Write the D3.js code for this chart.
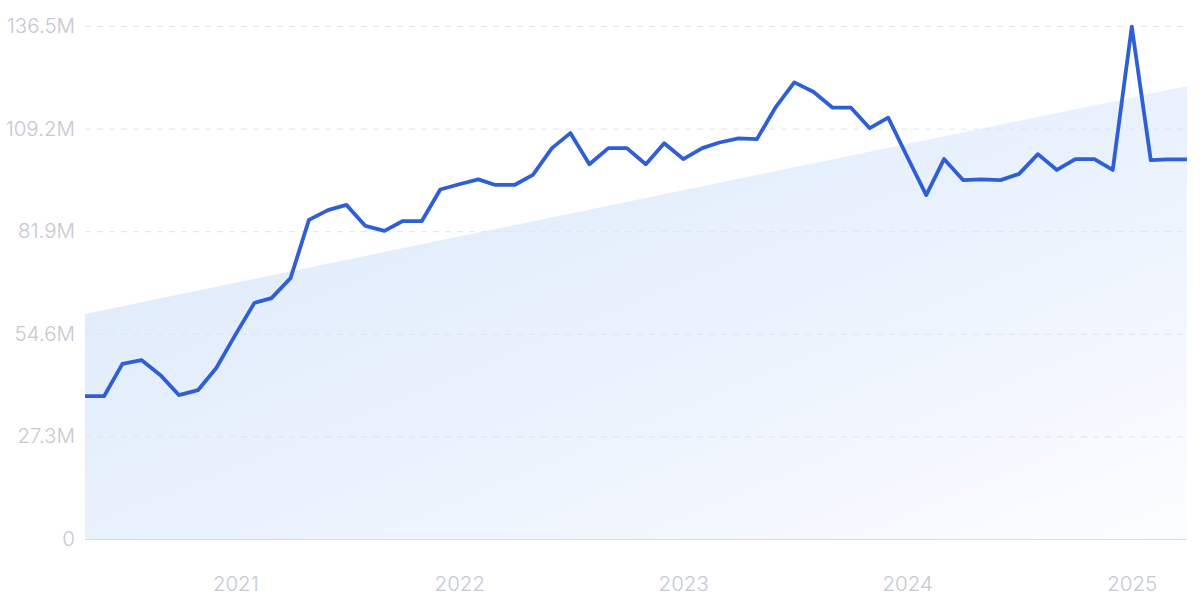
<!DOCTYPE html>
<html>
  <head>
    <meta charset="utf-8">
    <title>Trend</title>
    <script src="https://cdn.jsdelivr.net/npm/d3@7"></script>
    <style type="text/css">

html, body {
  margin: 0;
  background: #fff;
}

svg {
  display: block;
}

.tick text {
  font-family: "Inter", "Open Sans", sans-serif;
  fill: #c6c9d0;
  font-size: 20.5px;
  font-weight: 300;
}

    </style>
  </head>
  <body>
    <script type="text/javascript">

// monthly values in millions, May 2020 .. Apr 2025
var startMonth = new Date(2020, 4, 1);
var values = [
  38.0, 38.0, 46.6, 47.6, 43.6, 38.3, 39.6, 45.5, 54.3, 62.8,
  64.1, 69.4, 84.9, 87.5, 88.9, 83.3, 82.0, 84.6, 84.6, 93.0,
  94.4, 95.7, 94.2, 94.2, 96.9, 104.0, 108.0, 99.7, 104.0, 104.0,
  99.7, 105.3, 101.1, 104.0, 105.5, 106.6, 106.4, 115.0, 121.5, 119.0,
  114.8, 114.8, 109.3, 112.1, 101.7, 91.5, 101.1, 95.5, 95.7, 95.5,
  97.1, 102.4, 98.2, 101.1, 101.1, 98.2, 136.3, 100.8, 101.0, 101.0
];
var trend = [59.9, 120.5];           // trend line at first and last month
var yTicks = [0, 27.3, 54.6, 81.9, 109.2, 136.5];
var yLabels = ["0", "27.3M", "54.6M", "81.9M", "109.2M", "136.5M"];
var xYears = [2021, 2022, 2023, 2024, 2025];

var width = 1200, height = 605;
var margin = {top: 26, right: 13, bottom: 66, left: 85};

var data = values.map(function(v, i) {
  return {date: d3.timeMonth.offset(startMonth, i), value: v};
});

var svg = d3.select("body").append("svg")
    .attr("width", width)
    .attr("height", height);

var x = d3.scaleTime()
    .domain(d3.extent(data, function(d) { return d.date; }))
    .range([margin.left, width - margin.right]);

var y = d3.scaleLinear()
    .domain([0, 136.5])
    .range([height - margin.bottom, margin.top]);

var defs = svg.append("defs");
var grad = defs.append("linearGradient")
    .attr("id", "trendFill")
    .attr("x1", "0%").attr("y1", "0%")
    .attr("x2", "100%").attr("y2", "100%");
grad.append("stop").attr("offset", "0%").attr("stop-color", "#dbe8fa");
grad.append("stop").attr("offset", "55%").attr("stop-color", "#eaf2fd");
grad.append("stop").attr("offset", "100%").attr("stop-color", "#fcfdff");

// trend area
var first = data[0].date, last = data[data.length - 1].date;
var trendData = [{date: first, value: trend[0]}, {date: last, value: trend[1]}];
svg.append("path")
    .datum(trendData)
    .attr("fill", "url(#trendFill)")
    .attr("d", d3.area()
      .x(function(d) { return x(d.date); })
      .y0(y(0))
      .y1(function(d) { return y(d.value); }));

// y axis with dashed grid
var yAxis = svg.append("g")
    .attr("transform", "translate(" + margin.left + ",0)")
    .call(d3.axisLeft(y)
      .tickValues(yTicks)
      .tickSize(-(width - margin.left - margin.right))
      .tickPadding(10)
      .tickFormat(function(d, i) { return yLabels[i]; }));
yAxis.select(".domain").remove();
yAxis.selectAll(".tick line")
    .attr("stroke", "#dde4ef")
    .attr("stroke-dasharray", "6,6");
yAxis.selectAll(".tick")
    .filter(function(d) { return d === 0; })
    .select("line")
    .attr("stroke", "#cddff5")
    .attr("stroke-dasharray", null);

// x axis
var xAxis = svg.append("g")
    .attr("transform", "translate(0," + (height - margin.bottom) + ")")
    .call(d3.axisBottom(x)
      .tickValues(xYears.map(function(yr) { return new Date(yr, 0, 1); }))
      .tickSize(0)
      .tickPadding(37)
      .tickFormat(d3.timeFormat("%Y")));
xAxis.select(".domain").remove();

// line
svg.append("path")
    .datum(data)
    .attr("fill", "none")
    .attr("stroke", "#2e5fd4")
    .attr("stroke-width", 3.8)
    .attr("stroke-linejoin", "round")
    .attr("d", d3.line()
      .x(function(d) { return x(d.date); })
      .y(function(d) { return y(d.value); }));

    </script>
  </body>
</html>
